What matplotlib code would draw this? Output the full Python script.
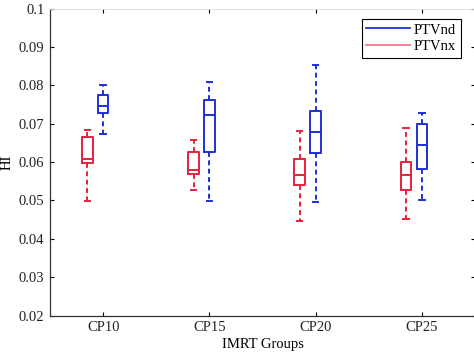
import numpy as np
import matplotlib.pyplot as plt
from matplotlib.lines import Line2D

plt.rcParams['font.family'] = ['Liberation Serif', 'DejaVu Serif']
plt.rcParams['font.size'] = 10.5

groups = ['CP10', 'CP15', 'CP20', 'CP25']

# box stats: lower whisker, q1, median, q3, upper whisker
nd_low = [0.0673, 0.0499, 0.0495, 0.0501]
nd_q1 = [0.0727, 0.0625, 0.0623, 0.0582]
nd_med = [0.0746, 0.0722, 0.0679, 0.0644]
nd_q3 = [0.0776, 0.0762, 0.0734, 0.0699]
nd_high = [0.0801, 0.0808, 0.0853, 0.0727]

nx_low = [0.0498, 0.0527, 0.0446, 0.0451]
nx_q1 = [0.0597, 0.0568, 0.0540, 0.0527]
nx_med = [0.0608, 0.0579, 0.0566, 0.0566]
nx_q3 = [0.0666, 0.0626, 0.0607, 0.0601]
nx_high = [0.0683, 0.0657, 0.0682, 0.0688]

blue = '#1f2fd8'
red = '#e8203c'


def make_stats(low, q1, med, q3, high):
    return [dict(whislo=a, q1=b, med=c, q3=d, whishi=e, fliers=[])
            for a, b, c, d, e in zip(low, q1, med, q3, high)]


fig = plt.figure(figsize=(4.74, 3.55), dpi=100)
ax = fig.add_axes([0.1055, 0.111, 0.897, 0.865])

pos = np.arange(1, len(groups) + 1)
for stats, offset, col in [(make_stats(nd_low, nd_q1, nd_med, nd_q3, nd_high), 0.0, blue),
                           (make_stats(nx_low, nx_q1, nx_med, nx_q3, nx_high), -0.15, red)]:
    ax.bxp(stats, positions=pos + offset, widths=0.1, showfliers=False,
           boxprops=dict(color=col, lw=1.4),
           medianprops=dict(color=col, lw=1.4),
           whiskerprops=dict(color=col, lw=1.4, ls=(0, (2.5, 1.8))),
           capprops=dict(color=col, lw=1.4),
           capwidths=0.05)

ax.set_xlim(0.5, 4.5)
ax.set_ylim(0.02, 0.1)
ax.set_xticks(pos)
ax.set_xticklabels(groups)
ax.set_yticks(np.arange(0.02, 0.1001, 0.01))
ax.set_yticklabels(['0.02', '0.03', '0.04', '0.05', '0.06', '0.07', '0.08', '0.09', '0.1'])
ax.tick_params(direction='in', top=True, right=True, length=3, width=0.8, pad=4,
               labelcolor='#222222')
for side in ['left', 'bottom']:
    ax.spines[side].set_linewidth(0.9)
    ax.spines[side].set_color('#333333')
for side in ['top', 'right']:
    ax.spines[side].set_linewidth(0.6)
    ax.spines[side].set_color('#dddddd')

ax.set_xlabel('IMRT Groups', labelpad=3)
ax.set_ylabel('HI')
ax.yaxis.set_label_coords(-0.086, 0.5)

handles = [Line2D([], [], color=blue, lw=1.3), Line2D([], [], color='#f07a8a', lw=1.3)]
leg = ax.legend(handles, ['PTVnd', 'PTVnx'], loc='upper right',
                bbox_to_anchor=(0.966, 0.966), fancybox=False, framealpha=1,
                edgecolor='black', handlelength=3.0, borderpad=0.3,
                labelspacing=0.25, handletextpad=0.3, borderaxespad=0)
leg.get_frame().set_linewidth(0.8)

fig.savefig('out.png', dpi=100)
